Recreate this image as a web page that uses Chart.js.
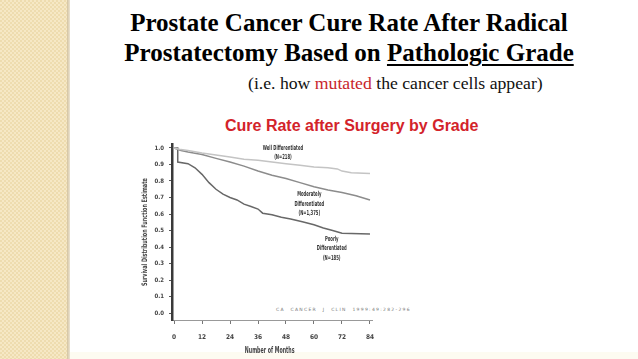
<!DOCTYPE html>
<html>
<head>
<meta charset="utf-8">
<script src="https://cdn.jsdelivr.net/npm/chart.js@4"></script>
<style>
html, body { margin:0; padding:0; width:638px; height:359px; overflow:hidden; background:#fff; }
#strip { position:absolute; left:0; top:0; width:67px; height:359px; background-color:#f3e2b8;
  background-image: repeating-conic-gradient(#f6e8c5 0 25%, #eedcaf 0 50%); background-size:4px 4px; }
#edge { position:absolute; left:67px; top:0; width:3px; height:359px; background:linear-gradient(to right,#d3c3a0,#ebe3d2); }
#bottom { position:absolute; left:70px; top:352px; width:568px; height:7px; background:#fdfbf1; }
#title { position:absolute; left:70px; width:558px; top:8px; text-align:center; font-family:'Liberation Serif', serif;
  font-weight:bold; font-size:25px; line-height:30px; color:#000; }
#title u { text-decoration-thickness:1.5px; text-underline-offset:3px; }
#sub { position:absolute; left:248px; top:73px; font-family:'Liberation Serif', serif; font-size:17.7px; color:#111; white-space:nowrap; }
#sub span { color:#c8252b; }
#charttitle { position:absolute; left:225px; top:117px; font-family:'Liberation Sans', Arial, sans-serif; font-weight:bold;
  font-size:16px; color:#d3232a; white-space:nowrap; }
#cite { position:absolute; left:276px; top:307px; font-family:'DejaVu Sans', sans-serif; font-size:4.5px; letter-spacing:1.3px;
  word-spacing:3px; color:#777; white-space:nowrap; }
canvas { position:absolute; left:0; top:0; }
</style>
</head>
<body>
<div id="strip"></div>
<div id="edge"></div>
<div id="bottom"></div>
<div id="title">Prostate Cancer Cure Rate After Radical<br>Prostatectomy Based on <u>Pathologic Grade</u></div>
<div id="sub">(i.e. how <span>mutated</span> the cancer cells appear)</div>
<div id="charttitle">Cure Rate after Surgery by Grade</div>
<div id="cite">CA CANCER J CLIN 1999:49:282-296</div>
<canvas id="myChart" width="638" height="359"></canvas>
<script>
// months and survival estimates
var wellMonths = [0, 3, 6, 12, 18, 24, 30, 36, 42, 48, 54, 60, 66, 70, 72, 76, 84];
var wellValues = [1.0, 0.99, 0.985, 0.97, 0.958, 0.945, 0.932, 0.925, 0.915, 0.905, 0.895, 0.885, 0.88, 0.873, 0.86, 0.85, 0.845];

var modMonths = [0, 3, 6, 12, 18, 24, 30, 36, 42, 48, 54, 60, 66, 72, 78, 84];
var modValues = [1.0, 0.985, 0.975, 0.96, 0.937, 0.915, 0.89, 0.86, 0.835, 0.815, 0.79, 0.765, 0.745, 0.73, 0.71, 0.685];

var poorMonths = [0, 1.6, 1.6, 6, 9, 12, 15, 18, 21, 24, 27, 30, 33, 36, 38, 42, 46, 50, 55, 60, 64, 68, 72, 84];
var poorValues = [1.0, 1.0, 0.915, 0.905, 0.88, 0.84, 0.79, 0.75, 0.72, 0.70, 0.685, 0.66, 0.645, 0.63, 0.605, 0.595, 0.58, 0.57, 0.553, 0.535, 0.515, 0.50, 0.483, 0.479];

var xTicks = [0, 12, 24, 36, 48, 60, 72, 84];
var yTicks = [0, 0.1, 0.2, 0.3, 0.4, 0.5, 0.6, 0.7, 0.8, 0.9, 1.0];

var noteText = [
    ['Well Differentiated', '(N=218)'],
    ['Moderately', 'Differentiated', '(N=1,375)'],
    ['Poorly', 'Differentiated', '(N=185)']
];
var noteMonth = [46.7, 58, 67.6];
var noteValue = [1.0, 0.72, 0.448];

var xTitle = 'Number of Months';
var yTitle = 'Survival Distribution Function Estimate';

var smallFont = "'DejaVu Sans Condensed', 'DejaVu Sans', sans-serif";

function toPoints(xs, ys) {
    var pts = [];
    for (var i = 0; i < xs.length; i++) {
        pts.push({x: xs[i], y: ys[i]});
    }
    return pts;
}

// the scan uses a very narrow typeface, so squeeze the text sideways
function narrowText(ctx, text, x, y, angle, squeeze) {
    ctx.save();
    ctx.translate(x, y);
    ctx.rotate(angle);
    ctx.scale(squeeze, 1);
    ctx.fillText(text, 0, 0);
    ctx.restore();
}

var notePlugin = {
    id: 'notes',
    afterDraw: function (chart) {
        var ctx = chart.ctx;
        var xs = chart.scales.x;
        var ys = chart.scales.y;
        ctx.save();
        ctx.fillStyle = '#333';
        ctx.textAlign = 'center';
        ctx.textBaseline = 'middle';
        ctx.font = 'bold 7px ' + smallFont;
        for (var i = 0; i < noteText.length; i++) {
            for (var j = 0; j < noteText[i].length; j++) {
                narrowText(ctx, noteText[i][j], xs.getPixelForValue(noteMonth[i]),
                    ys.getPixelForValue(noteValue[i]) + j * 9.5, 0, 0.6);
            }
        }
        ctx.fillStyle = '#444';
        ctx.font = 'bold 8px ' + smallFont;
        narrowText(ctx, xTitle, xs.getPixelForValue(41), 351, 0, 0.66);
        ctx.font = 'bold 7.5px ' + smallFont;
        narrowText(ctx, yTitle, 145, ys.getPixelForValue(0.49), -Math.PI / 2, 0.72);
        ctx.restore();
    }
};

var ctx = document.getElementById('myChart').getContext('2d');
var chart = new Chart(ctx, {
    type: 'line',
    data: {
        datasets: [{
            label: 'Well Differentiated',
            data: toPoints(wellMonths, wellValues),
            borderColor: '#c4c4c4',
            borderWidth: 1.5
        }, {
            label: 'Moderately Differentiated',
            data: toPoints(modMonths, modValues),
            borderColor: '#8c8c8c',
            borderWidth: 1.5
        }, {
            label: 'Poorly Differentiated',
            data: toPoints(poorMonths, poorValues),
            borderColor: '#686868',
            borderWidth: 1.5
        }]
    },
    options: {
        responsive: false,
        animation: false,
        events: [],
        elements: { point: { radius: 0 }, line: { tension: 0 } },
        layout: { padding: { left: 136, right: 266, top: 144, bottom: 0 } },
        plugins: { legend: { display: false }, tooltip: { enabled: false } },
        scales: {
            x: {
                type: 'linear',
                min: -0.86,
                max: 84.86,
                afterBuildTicks: function (scale) {
                    scale.ticks = xTicks.map(function (v) { return {value: v}; });
                },
                afterFit: function (scale) { scale.height = 39; },
                border: { display: true, color: '#999', width: 1 },
                grid: { drawOnChartArea: false, drawTicks: true, tickLength: 4, color: '#777' },
                ticks: { padding: 9, color: '#444', font: { family: smallFont, size: 6.5, weight: 'bold' } }
            },
            y: {
                min: -0.042,
                max: 1.024,
                afterBuildTicks: function (scale) {
                    scale.ticks = yTicks.map(function (v) { return {value: v}; });
                },
                afterFit: function (scale) { scale.width = 36; },
                border: { display: true, color: '#3a3a3a', width: 2.5 },
                grid: { drawOnChartArea: false, drawTicks: true, tickLength: 3, color: '#555' },
                ticks: { padding: 5, color: '#444', font: { family: smallFont, size: 6, weight: 'bold' },
                    callback: function (v) { return v.toFixed(1); } }
            }
        }
    },
    plugins: [notePlugin]
});
</script>
</body>
</html>
